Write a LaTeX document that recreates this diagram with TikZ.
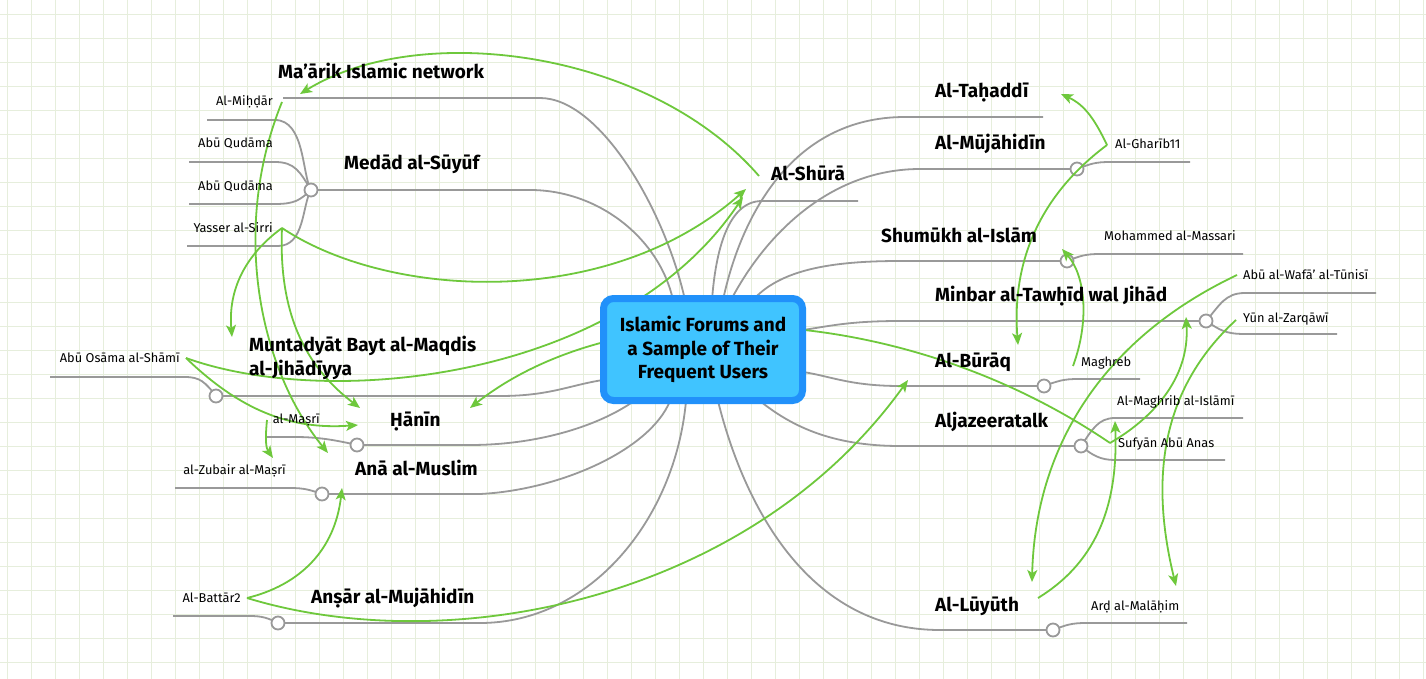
\documentclass[tikz,border=0pt]{standalone}
\usepackage{fontspec}
\setmainfont{Fira Sans}
\usetikzlibrary{arrows.meta}
\definecolor{gridc}{RGB}{230,238,220}
\definecolor{graylink}{RGB}{153,153,153}
\definecolor{greenlink}{RGB}{110,200,60}
\definecolor{cborder}{RGB}{33,145,250}
\definecolor{cfill}{RGB}{64,196,255}
\begin{document}
\begin{tikzpicture}[x=1pt,y=-1pt,
  topic/.style={font=\bfseries\fontsize{19}{24}\selectfont, inner sep=0pt, anchor=base west, text=black},
  userl/.style={font=\fontsize{12.8}{15}\selectfont, inner sep=0pt, anchor=base west, text=black},
  userr/.style={userl, anchor=base east},
  branch/.style={draw=graylink, line width=1.8pt},
  joint/.style={circle, draw=graylink, fill=white, line width=1.8pt, minimum size=13pt, inner sep=0pt},
  rel/.style={draw=greenlink, line width=1.8pt, -{Stealth[length=12pt,width=10pt,inset=3pt]}},
]
\useasboundingbox (0,0) rectangle (1426,679);
\fill[white] (0,0) rectangle (1426,679);
\foreach \i in {0,...,59} \draw[gridc, line width=1pt] ({7.3+24*\i},0) -- ({7.3+24*\i},679);
\foreach \j in {0,...,27} \draw[gridc, line width=1pt] (0,{14.3+24*\j}) -- (1426,{14.3+24*\j});

% ---------- joints ----------
\coordinate (cMed) at (311,190);
\coordinate (cMun) at (216,396);
\coordinate (cHan) at (357,445);
\coordinate (cAna) at (322,494);
\coordinate (cAns) at (278,623);
\coordinate (cMuj) at (1077,169);
\coordinate (cShu) at (1067,261);
\coordinate (cMin) at (1206,321);
\coordinate (cBur) at (1044,386);
\coordinate (cJaz) at (1081,446);
\coordinate (cLuy) at (1053,630);
% hub attachment points
\coordinate (hMaa) at (685,300);
\coordinate (hMed) at (673,300);
\coordinate (hMun) at (603,380);
\coordinate (hHan) at (634,401);
\coordinate (hAna) at (670,401);
\coordinate (hAns) at (686,401);
\coordinate (hShu) at (712,300);
\coordinate (hTah) at (723,300);
\coordinate (hMuj) at (731,300);
\coordinate (hShm) at (753,300);
\coordinate (hMin) at (803,330);
\coordinate (hBur) at (803,372);
\coordinate (hJaz) at (760,401);
\coordinate (hLuy) at (718,401);
% free ends
\coordinate (eMaa) at (283,98);
\coordinate (eShu) at (858,201);
\coordinate (eTah) at (1043,117);
\coordinate (eMed1) at (207,120);
\coordinate (eMed2) at (189,162);
\coordinate (eMed3) at (189,204);
\coordinate (eMed4) at (187,246);
\coordinate (eMun) at (50,377);
\coordinate (eHan) at (267,437);
\coordinate (eAna) at (175,488);
\coordinate (eAns) at (173,616);
\coordinate (eMuj) at (1190,162);
\coordinate (eShm) at (1243,254);
\coordinate (eMin1) at (1376,293);
\coordinate (eMin2) at (1337,334);
\coordinate (eBur) at (1140,379);
\coordinate (eJaz1) at (1243,418);
\coordinate (eJaz2) at (1225,460);
\coordinate (eLuy) at (1187,623);

% ---------- gray branches ----------
\draw[branch] (eMaa) -- (540,98) .. controls (600,98) and (665,210) .. (hMaa);
\draw[branch] (cMed) -- (530,190) .. controls (600,190) and (660,240) .. (hMed);
\draw[branch] (cMun) -- (500,396) .. controls (550,396) and (570,385) .. (hMun);
\draw[branch] (cHan) -- (470,445) .. controls (540,445) and (600,425) .. (hHan);
\draw[branch] (cAna) -- (480,494) .. controls (560,490) and (650,450) .. (hAna);
\draw[branch] (cAns) -- (480,623) .. controls (590,623) and (675,520) .. (hAns);
\draw[branch] (eShu) -- (762,201) .. controls (725,201) and (715,260) .. (hShu);
\draw[branch] (eTah) -- (905,117) .. controls (790,117) and (740,220) .. (hTah);
\draw[branch] (cMuj) -- (920,169) .. controls (830,169) and (765,235) .. (hMuj);
\draw[branch] (cShu) -- (900,261) .. controls (830,261) and (780,270) .. (hShm);
\draw[branch] (cMin) -- (900,321) .. controls (850,321) and (830,326) .. (hMin);
\draw[branch] (cBur) -- (900,386) .. controls (850,386) and (830,376) .. (hBur);
\draw[branch] (cJaz) -- (900,446) .. controls (830,446) and (790,425) .. (hJaz);
\draw[branch] (cLuy) -- (940,630) .. controls (800,630) and (740,490) .. (hLuy);
% children
\draw[branch] (cMed) .. controls (302,175) and (305,120) .. (275,120) -- (eMed1);
\draw[branch] (cMed) .. controls (300,172) and (295,162) .. (275,162) -- (eMed2);
\draw[branch] (cMed) .. controls (300,200) and (295,204) .. (275,204) -- (eMed3);
\draw[branch] (cMed) .. controls (302,205) and (305,246) .. (278,246) -- (eMed4);
\draw[branch] (cMun) .. controls (205,382) and (200,377) .. (185,377) -- (eMun);
\draw[branch] (cHan) .. controls (335,440) and (318,437) .. (295,437) -- (eHan);
\draw[branch] (cAna) .. controls (310,490) and (305,488) .. (290,488) -- (eAna);
\draw[branch] (cAns) .. controls (268,618) and (262,616) .. (250,616) -- (eAns);
\draw[branch] (cMuj) .. controls (1090,164) and (1095,162) .. (1110,162) -- (eMuj);
\draw[branch] (cShu) .. controls (1080,256) and (1085,254) .. (1100,254) -- (eShm);
\draw[branch] (cMin) .. controls (1220,305) and (1225,293) .. (1245,293) -- (eMin1);
\draw[branch] (cMin) .. controls (1220,330) and (1225,334) .. (1245,334) -- (eMin2);
\draw[branch] (cBur) .. controls (1058,381) and (1063,379) .. (1078,379) -- (eBur);
\draw[branch] (cJaz) .. controls (1092,430) and (1098,418) .. (1115,418) -- (eJaz1);
\draw[branch] (cJaz) .. controls (1092,455) and (1100,460) .. (1115,460) -- (eJaz2);
\draw[branch] (cLuy) .. controls (1066,625) and (1071,623) .. (1086,623) -- (eLuy);

% joints drawn
\foreach \c in {cMed,cMun,cHan,cAna,cAns,cMuj,cShu,cMin,cBur,cJaz,cLuy}
  \node[joint] at (\c) {};

% ---------- green relationships ----------
\coordinate (sShu) at (759,176);
\coordinate (sMih) at (282,102);
\coordinate (sYas) at (282,228);
\coordinate (sOsa) at (186,358);
\coordinate (sMas) at (267,420);
\coordinate (sBat) at (247,598);
\coordinate (sGha) at (1107,145);
\coordinate (sMag) at (1073,366);
\coordinate (sWaf) at (1237,275);
\coordinate (sYun) at (1236,320);
\coordinate (sSuf) at (1110,443);
\coordinate (sLuy) at (1038,598);
\coordinate (tMaa) at (300,94);
\coordinate (tAna1) at (328,453);
\coordinate (tMun) at (232,337);
\coordinate (tHan1) at (360,408);
\coordinate (tShu1) at (746,189);
\coordinate (tShu2) at (743,197);
\coordinate (tHan2) at (358,425);
\coordinate (tZub) at (273,458);
\coordinate (tAna2) at (342,488);
\coordinate (tBur1) at (908,380);
\coordinate (tTah) at (1061,94);
\coordinate (tBur2) at (1018,345);
\coordinate (tShm) at (1062,249);
\coordinate (tLuy) at (1032,582);
\coordinate (tArd) at (1176,586);
\coordinate (tMin) at (1186,317);
\coordinate (tHan3) at (470,408);
\coordinate (tMagI) at (1115,421);

\draw[rel] (sShu) .. controls (650,50) and (420,20) .. (tMaa);
\draw[rel] (sMih) .. controls (230,230) and (260,370) .. (tAna1);
\draw[rel] (sYas) .. controls (245,255) and (228,290) .. (tMun);
\draw[rel] (sYas) .. controls (278,320) and (310,370) .. (tHan1);
\draw[rel] (sYas) .. controls (390,300) and (610,310) .. (tShu1);
\draw[rel] (sOsa) .. controls (330,410) and (620,380) .. (tShu2);
\draw[rel] (sOsa) .. controls (240,410) and (290,430) .. (tHan2);
\draw[rel] (sMas) .. controls (265,440) and (266,448) .. (tZub);
\draw[rel] (sBat) .. controls (300,585) and (335,550) .. (tAna2);
\draw[rel] (sBat) .. controls (450,660) and (750,600) .. (tBur1);
\draw[rel] (sGha) .. controls (1095,120) and (1085,105) .. (tTah);
\draw[rel] (sGha) .. controls (1060,180) and (1010,240) .. (tBur2);
\draw[rel] (sMag) .. controls (1090,320) and (1085,275) .. (tShm);
\draw[rel] (sWaf) .. controls (1100,340) and (1035,450) .. (tLuy);
\draw[rel] (sYun) .. controls (1160,390) and (1150,480) .. (tArd);
\draw[rel] (sSuf) .. controls (1150,420) and (1190,380) .. (tMin);
\draw[rel] (sSuf) .. controls (900,300) and (620,290) .. (tHan3);
\draw[rel] (sLuy) .. controls (1100,560) and (1118,500) .. (tMagI);

% ---------- hub ----------
\node[draw=cborder, fill=cfill, line width=7pt, rounded corners=10pt,
  minimum width=199pt, minimum height=102pt, align=center, inner sep=0pt,
  font=\bfseries\fontsize{19}{23.5}\selectfont] (hub) at (703,349.5)
  {Islamic Forums and\\a Sample of Their\\Frequent Users};

% ---------- topic labels ----------
\node[topic] (tMaarik) at (278,79) {Ma’ārik Islamic network};
\node[topic] (tMedad) at (344,170) {Medād al-Sūyūf};
\node[topic, align=left] (tMuntad) at (249,375) {Muntadyāt Bayt al-Maqdis\\al-Jihādīyya};
\node[topic] (tHanin) at (390,426) {Ḥānīn};
\node[topic] (tAnaM) at (355,475) {Anā al-Muslim};
\node[topic] (tAnsar) at (311,603) {Anṣār al-Mujāhidīn};
\node[topic] (tShura) at (771,181) {Al-Shūrā};
\node[topic] (tTahaddi) at (935,98) {Al-Taḥaddī};
\node[topic] (tMujah) at (935,150) {Al-Mūjāhidīn};
\node[topic] (tShumukh) at (881,242) {Shumūkh al-Islām};
\node[topic] (tMinbar) at (935,301) {Minbar al-Tawḥīd wal Jihād};
\node[topic] (tBuraq) at (935,367) {Al-Būrāq};
\node[topic] (tJazeera) at (935,427) {Aljazeeratalk};
\node[topic] (tLuyuth) at (935,611) {Al-Lūyūth};

% ---------- user labels ----------
\node[userr] (uMih) at (273,106) {Al-Miḥḍār};
\node[userr] (uQud1) at (273,148) {Abū Qudāma};
\node[userr] (uQud2) at (273,190) {Abū Qudāma};
\node[userr] (uYas) at (273,232) {Yasser al-Sirri};
\node[userr] (uOsa) at (180,362) {Abū Osāma al-Shāmī};
\node[userr] (uMas) at (320,423) {al-Maṣrī};
\node[userr] (uZub) at (286,474) {al-Zubair al-Maṣrī};
\node[userr] (uBat) at (241,602) {Al-Battār2};
\node[userl] (uGha) at (1115,149) {Al-Gharīb11};
\node[userl] (uMoh) at (1104,240) {Mohammed al-Massari};
\node[userl] (uWaf) at (1243,279) {Abū al-Wafā’ al-Tūnisī};
\node[userl] (uYun) at (1243,322) {Yūn al-Zarqāwī};
\node[userl] (uMag) at (1081,366) {Maghreb};
\node[userl] (uMagI) at (1117,405) {Al-Maghrib al-Islāmī};
\node[userl] (uSuf) at (1118,447) {Sufyān Abū Anas};
\node[userl] (uArd) at (1091,610) {Arḍ al-Malāḥim};
\end{tikzpicture}
\end{document}
